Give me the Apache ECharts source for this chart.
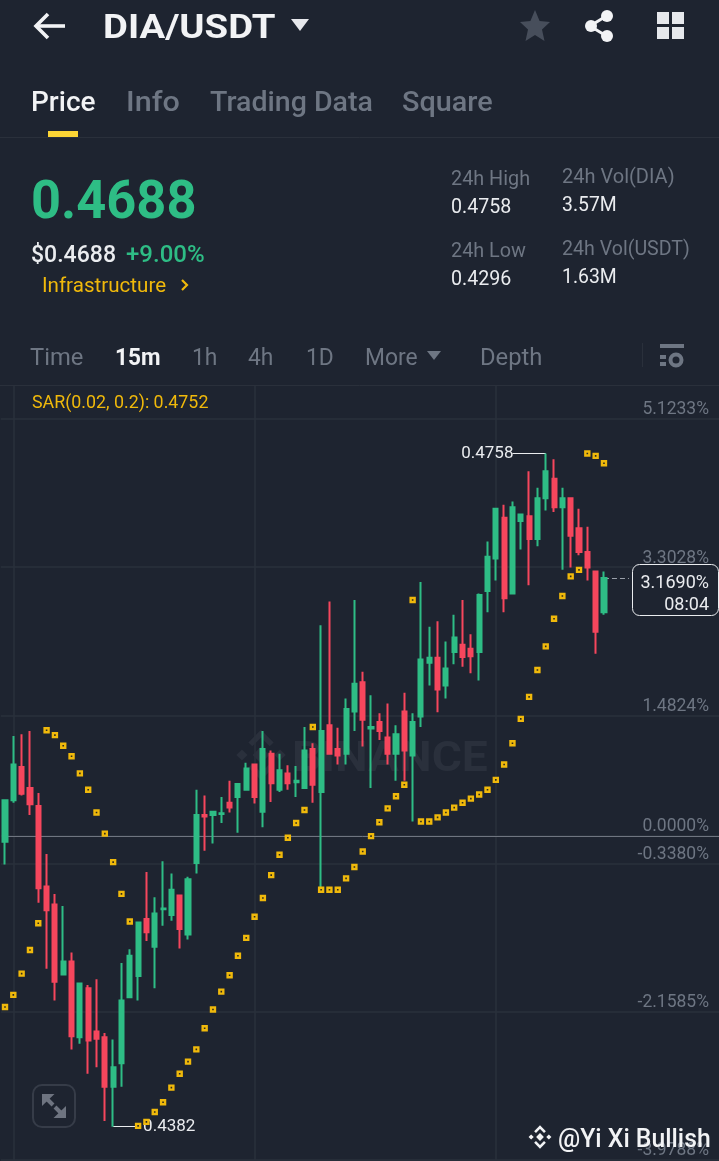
<!DOCTYPE html>
<html><head><meta charset="utf-8">
<style>html,body{margin:0;padding:0;background:#1e2430;overflow:hidden}#c{width:730px;height:1161px}</style>
<script src="https://cdn.jsdelivr.net/npm/echarts@6/dist/echarts.min.js"></script>
</head><body><div id="c"></div>
<script>
// values in % relative to the 0.0000% reference line
const openVals=[-.07,.44,.85,.59,.37,-.62,-.84,-1.70,-1.54,-2.47,
-1.87,-2.40,-2.47,-3.08,-2.79,-1.98,-1.72,-1.02,-1.36,-.90,
-.97,-.73,-1.21,-.33,.26,.26,.27,.41,.48,.57,
.88,.30,1.01,.57,.77,.66,.59,1.07,.54,1.36,
1.07,1.01,1.53,1.89,1.32,1.40,1.21,1.01,1.53,.99,
1.47,2.13,2.19,1.85,2.26,2.35,2.30,2.26,3.01,3.41,
3.91,2.98,3.87,3.93,3.65,4.15,4.39,4.04,4.15,3.78,
3.49,3.25,2.75];
const closeVals=[.44,.88,.52,.39,-.64,-.91,-1.79,-1.54,-2.46,-1.81,
-2.51,-2.49,-3.08,-2.84,-2.02,-1.47,-1.06,-1.18,-.95,-.89,
-.66,-1.14,-.53,.26,.24,.30,.28,.35,.64,.83,
.48,1.07,.65,.81,.65,.68,1.05,.63,1.29,1.01,
.99,1.56,1.87,1.43,1.34,1.29,1.01,1.25,1.05,1.40,
2.17,2.19,1.80,2.06,2.44,2.20,2.21,2.96,3.43,4.02,
2.92,4.04,3.95,3.65,4.15,4.48,4.04,4.15,3.69,3.49,
3.30,2.51,3.17];
const lowVals=[-.35,.41,.50,.26,-.82,-1.63,-2.02,-1.70,-2.62,-2.55,
-2.92,-2.84,-3.50,-3.57,-3.08,-1.98,-2.02,-1.29,-1.87,-1.10,
-1.04,-1.38,-1.27,-.46,-.18,-.09,.16,.29,.04,.57,
.40,.11,.42,.54,.57,.48,.59,.41,-.64,1.01,
.88,.88,1.29,1.10,.59,1.18,.88,.68,.68,.18,
1.34,1.85,1.52,1.69,2.11,2.08,2.00,1.91,2.75,3.14,
2.75,2.98,3.52,3.08,3.56,4.00,3.98,3.27,3.30,3.45,
3.14,2.24,2.72];
const highVals=[.44,1.23,1.25,1.29,.53,-.22,-.71,-.86,-1.43,-1.81,
-1.83,-1.76,-2.42,-2.50,-1.56,-1.39,-1.06,-.44,-.75,-.31,
-.46,-.73,-.50,.57,.50,.30,.48,.68,.64,.90,
.88,1.29,1.05,1.01,.87,.86,1.34,1.14,2.59,2.88,
1.33,1.69,2.90,2.02,1.73,1.51,1.63,1.36,1.76,1.51,
3.12,2.57,2.64,2.39,2.72,2.90,2.48,2.98,3.62,4.02,
4.07,4.11,3.95,4.48,4.28,4.70,4.63,4.28,4.15,4.02,
3.80,3.25,3.25];
const sarVals=[-2.10,-1.95,-1.69,-1.40,-1.07,1.30,1.24,1.11,.98,.77,
.57,.29,.03,-.32,-.71,-1.05,-3.56,-3.51,-3.39,-3.27,
-3.09,-2.92,-2.77,-2.62,-2.36,-2.13,-1.91,-1.71,-1.47,-1.25,
-.99,-.76,-.48,-.23,-.02,.16,.32,1.34,-.66,-.66,
-.66,-.52,-.38,-.19,0,.17,.34,.49,.63,2.90,
.18,.18,.23,.29,.35,.41,.46,.51,.57,.69,
.88,1.14,1.44,1.71,2.04,2.33,2.67,2.95,3.19,3.27,
4.70,4.67,4.58];
const categories=Array.from({length:87},(_,i)=>String(i));
const yTicks=[-3.9788,-2.1585,-0.3380,0,1.4824,3.3028,5.1233];
const gridCats=[1,30,59];
const candles=openVals.map((o,i)=>[o,closeVals[i],lowVals[i],highVals[i]]);
const sar=sarVals.map((v,i)=>[String(i),v]);
const BG='#1e2430',GRID='#2a303b',GREEN='#2ebd85',RED='#f6465d',GOLD='#f0b90b',GRAY='#6e7683',WHITE='#eaecef';
const FF='Roboto, "Noto Sans", sans-serif';
function T(text,x,y,size,fill,weight,sx,align,z){
  return {type:'text',x,y:y+size*.09,scaleX:sx||1,z:z==null?50:z,silent:true,
    style:{text,fill,font:`${weight||400} ${size}px ${FF}`,textAlign:align||'left',textVerticalAlign:'middle'}};
}
function L(x1,y1,x2,y2,stroke,w,z){return {type:'line',z:z==null?50:z,silent:true,shape:{x1,y1,x2,y2},style:{stroke,lineWidth:w}};}
function P(points,fill,z){return {type:'polygon',z:z==null?50:z,silent:true,shape:{points},style:{fill}};}
function R(x,y,w,h,fill,r,stroke,lw,z){return {type:'rect',z:z==null?50:z,silent:true,shape:{x,y,width:w,height:h,r:r||0},style:{fill:fill||'none',stroke:stroke||'none',lineWidth:lw||0}};}
function C(cx,cy,r,fill){return {type:'circle',z:50,silent:true,shape:{cx,cy,r},style:{fill}};}
function logo(cx,cy,s,fill,z){
  const d=(x,y,r)=>P([[x,y-r],[x+r,y],[x,y+r],[x-r,y]],fill,z);
  return [d(cx,cy,s*.3),d(cx-s*.68,cy,s*.2),d(cx+s*.68,cy,s*.2),
    {type:'polyline',z:z==null?50:z,silent:true,shape:{points:[[cx-s*.38,cy-s*.38],[cx,cy-s*.76],[cx+s*.38,cy-s*.38]]},style:{stroke:fill,lineWidth:s*.2,fill:'none'}},
    {type:'polyline',z:z==null?50:z,silent:true,shape:{points:[[cx-s*.38,cy+s*.38],[cx,cy+s*.76],[cx+s*.38,cy+s*.38]]},style:{stroke:fill,lineWidth:s*.2,fill:'none'}}];
}
const ui=[
  {type:'polyline',z:50,silent:true,shape:{points:[[48,14],[36,26],[48,38]]},style:{stroke:'#f2f3f5',lineWidth:3.6,fill:'none'}},
  L(37,26,65,26,'#f2f3f5',3.6),
  T('DIA/USDT',103,27,33,'#f2f3f5',700,1.16),
  P([[291,19],[309,19],[300,31]],'#e6e8ec'),
  P([[535,10],[539.6,21],[550,22],[542,29.5],[544.5,41],[535,35],[525.5,41],[528,29.5],[520,22],[530.4,21]],'#474e5b'),
  L(590,26,608,15,'#f2f3f5',3),L(590,26,608,37,'#f2f3f5',3),
  C(591,26,6,'#f2f3f5'),C(607,16,6,'#f2f3f5'),C(607,36,6,'#f2f3f5'),
  R(657,12,12,12,'#e6e8ec'),R(672,12,12,12,'#e6e8ec'),R(657,27,12,12,'#e6e8ec'),R(672,27,12,12,'#e6e8ec'),
  T('Price',31,101,28,'#f2f3f5',500,1.0),T('Info',126,101,28,GRAY,500,1.09),
  T('Trading Data',210,101,28,GRAY,500,1.02),T('Square',402,101,28,GRAY,500,1.03),
  R(48,131,30,6,'#fcd535'),L(0,137.5,719,137.5,GRID,1),
  T('0.4688',31,200,54,GREEN,700,.97),
  T('$0.4688',31,254,24,WHITE,500,.96),T('+9.00%',126,254,24,GREEN,500,1.0),
  T('Infrastructure',42,285,21,GOLD,400,.98),
  {type:'polyline',z:50,silent:true,shape:{points:[[182,280],[187,285],[182,290]]},style:{stroke:GOLD,lineWidth:2.2,fill:'none'}},
  T('24h High',451,178,20,GRAY,400,.99),T('0.4758',451,206,20,WHITE,400,.98),
  T('24h Low',451,250,20,GRAY,400,.99),T('0.4296',451,278,20,WHITE,400,.98),
  T('24h Vol(DIA)',562,176,20,GRAY,400,1.0),T('3.57M',562,204,20,WHITE,400,.97),
  T('24h Vol(USDT)',562,248,20,GRAY,400,.98),T('1.63M',562,276,20,WHITE,400,.97),
  T('Time',30,357,24,GRAY,400,.99),T('15m',115,357,24,'#f2f3f5',700,.94),T('1h',192,357,24,GRAY,400,.95),
  T('4h',248,357,24,GRAY,400,.95),T('1D',306,357,24,GRAY,400,.95),T('More',365,357,24,GRAY,400,.95),
  P([[427,351],[441,351],[434,360]],GRAY),T('Depth',480,357,24,GRAY,400,.99),
  L(642.5,343,642.5,367,GRID,1),
  R(660,344,24,4,GRAY),R(660,355,6,4,GRAY),R(660,362,6,4,GRAY),
  {type:'circle',z:50,silent:true,shape:{cx:676,cy:360,r:5.5},style:{fill:'none',stroke:GRAY,lineWidth:4}},
  L(0,385.5,719,385.5,GRID,1),
  T('SAR(0.02, 0.2): 0.4752',32,402,18,GOLD,400,.99),
  T('BINANCE',292,757,42,'#2a303c',700,1.1,'left',0),...logo(261,755,28,'#2a303c',0),
  R(632.5,564.5,86,51,BG,7,'#eaecef',1),
  T('3.1690%',709,582,18,WHITE,400,1,'right'),T('08:04',709,604,18,WHITE,400,1,'right'),
  R(33,1085,42,42,'none',9,'#363c48',2),
  P([[42,1094],[54.5,1094],[42,1106]],'#6e7480'),L(46,1098,53,1105,'#6e7480',4),
  P([[66,1118],[53.5,1118],[66,1106]],'#6e7480'),L(62,1114,55,1107,'#6e7480',4),
  ...logo(540,1137,13,'#f2f3f5'),
  T('@Yi Xi Bullish',558,1138,25,'#f2f3f5',500,.99)
];
const chart=echarts.init(document.getElementById('c'),null,{renderer:'canvas'});
chart.setOption({
  animation:false,backgroundColor:BG,
  grid:{left:0.84,width:723.75,top:385,height:775,containLabel:false},
  xAxis:{type:'category',data:categories,axisLine:{show:false},axisTick:{show:false},axisLabel:{show:false},
    splitLine:{show:true,alignWithLabel:true,interval:(i)=>gridCats.includes(i),lineStyle:{color:GRID,width:1.5}}},
  yAxis:{type:'value',position:'right',min:-3.9788,max:5.5409,
    axisLine:{show:false},axisTick:{show:false,customValues:yTicks},
    axisLabel:{show:true,inside:true,margin:15.6,customValues:yTicks,color:GRAY,fontFamily:FF,fontSize:17.5,verticalAlign:'bottom',align:'right',
      formatter:v=>v.toFixed(4)+'%',showMinLabel:true,showMaxLabel:true},
    splitLine:{show:true,lineStyle:{color:GRID,width:1.5}}},
  series:[
    {type:'candlestick',data:candles,barWidth:4.6,z:5,
      itemStyle:{color:GREEN,color0:RED,borderColor:GREEN,borderColor0:RED,borderWidth:2},
      markLine:{silent:true,symbol:'none',animation:false,z:3,precision:4,
        data:[
          [{xAxis:'0',yAxis:0,lineStyle:{color:'#6f7580',width:1,type:'solid'},label:{show:false}},{xAxis:'86',yAxis:0}],
          [{xAxis:'65',yAxis:4.70,lineStyle:{color:'#eaecef',width:1,type:'solid'},label:{show:true,position:'end',formatter:'0.4758',color:WHITE,fontFamily:FF,fontSize:17,distance:-1}},{xAxis:'61',yAxis:4.70}],
          [{xAxis:'13',yAxis:-3.57,lineStyle:{color:'#eaecef',width:1,type:'solid'},label:{show:true,position:'end',formatter:'0.4382',color:WHITE,fontFamily:FF,fontSize:17,distance:5}},{xAxis:'16',yAxis:-3.57}],
          [{xAxis:'72',yAxis:3.17,lineStyle:{color:'#9aa0aa',width:1.2,type:[5,3]},label:{show:false}},{xAxis:'75',yAxis:3.17}]
        ]}},
    {type:'scatter',data:sar,symbol:'rect',symbolSize:4,z:6,
      itemStyle:{color:'#2e2a1c',borderColor:GOLD,borderWidth:2.4,opacity:1}}
  ],
  graphic:{elements:ui}
});
</script></body></html>
